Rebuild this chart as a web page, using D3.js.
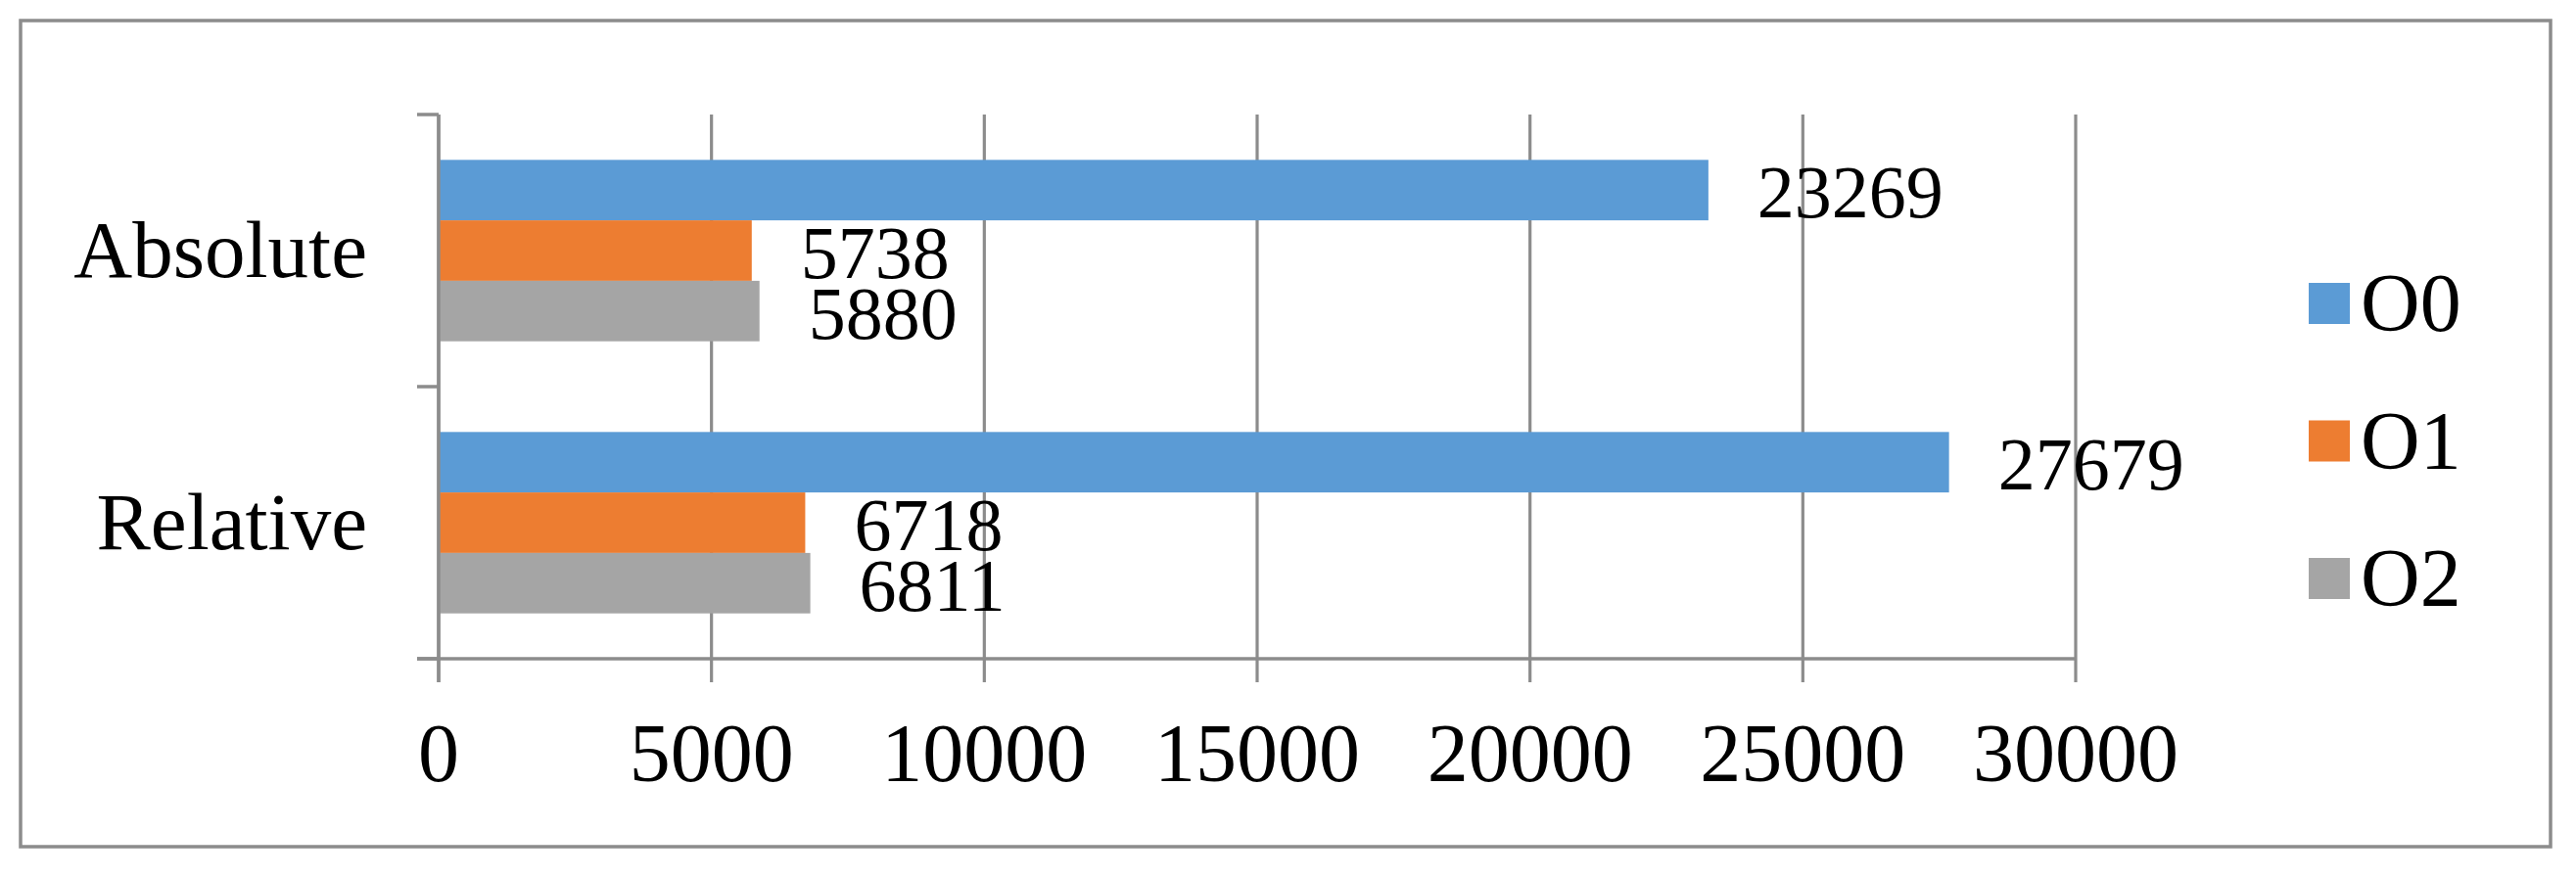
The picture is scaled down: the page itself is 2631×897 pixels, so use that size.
<!DOCTYPE html>
<html>
<head>
<meta charset="utf-8">
<script src="https://cdn.jsdelivr.net/npm/d3@7"></script>
<style>
html,body{margin:0;padding:0;background:#fff;}
svg{display:block;}
text{font-family:"Liberation Serif","Times New Roman",serif;fill:#000;}
</style>
</head>
<body>
<script>
const categories = ["Absolute", "Relative"];
const seriesNames = ["O0", "O1", "O2"];
const O0 = [23269, 27679];
const O1 = [5738, 6718];
const O2 = [5880, 6811];
const xTicks = [0, 5000, 10000, 15000, 20000, 25000, 30000];
const seriesColors = ["#5B9BD5", "#ED7D31", "#A5A5A5"];

const W = 2631, H = 897;
const seriesValues = [O0, O1, O2];
const rows = [];
categories.forEach((c, ci) => {
  seriesNames.forEach((s, si) => rows.push({cat: c, ser: s, si, value: seriesValues[si][ci]}));
});

const svg = d3.select("body").append("svg").attr("width", W).attr("height", H);

// outer frame
svg.append("rect").attr("x", 21).attr("y", 21).attr("width", 2584).attr("height", 844)
  .attr("fill", "#fff").attr("stroke", "#8c8c8c").attr("stroke-width", 3.5);

const plot = {left: 448, right: 2120, top: 117, bottom: 673};
const labelFont = 76, axisFont = 84, catFont = 83;
const gridColor = "#8c8c8c";
const tickLen = 24;

const x = d3.scaleLinear().domain([0, 30000]).range([plot.left, plot.right]);
const y = d3.scaleBand().domain(categories).range([plot.top, plot.bottom]).padding(0);
const bw = y.bandwidth();
const barH = bw / (3 + 1.5);
const yInner = d3.scaleBand().domain(seriesNames)
  .range([(bw - 3 * barH) / 2, (bw + 3 * barH) / 2]).padding(0);

// gridlines + tick marks below axis
svg.append("g").selectAll("line").data(xTicks).join("line")
  .attr("x1", d => x(d)).attr("x2", d => x(d))
  .attr("y1", plot.top).attr("y2", plot.bottom + tickLen)
  .attr("stroke", gridColor).attr("stroke-width", 3.2);

// category axis ticks (boundaries)
const bounds = [plot.top, plot.top + bw, plot.bottom];
svg.append("g").selectAll("line").data(bounds).join("line")
  .attr("x1", plot.left - 22).attr("x2", plot.left)
  .attr("y1", d => d).attr("y2", d => d)
  .attr("stroke", gridColor).attr("stroke-width", 3.5);

// bars
svg.append("g").selectAll("rect").data(rows).join("rect")
  .attr("x", x(0))
  .attr("y", d => y(d.cat) + yInner(d.ser))
  .attr("width", d => x(d.value) - x(0))
  .attr("height", yInner.bandwidth())
  .attr("fill", d => seriesColors[d.si]);

// axes lines
svg.append("line").attr("x1", plot.left).attr("x2", plot.left)
  .attr("y1", plot.top).attr("y2", plot.bottom + tickLen)
  .attr("stroke", gridColor).attr("stroke-width", 3.5);
svg.append("line").attr("x1", plot.left - 22).attr("x2", plot.right)
  .attr("y1", plot.bottom).attr("y2", plot.bottom)
  .attr("stroke", gridColor).attr("stroke-width", 3.5);

// data labels
svg.append("g").selectAll("text").data(rows).join("text")
  .attr("x", d => x(d.value) + 50)
  .attr("y", d => y(d.cat) + yInner(d.ser) + yInner.bandwidth() / 2 + 28)
  .attr("font-size", labelFont)
  .text(d => d.value);

// x tick labels
svg.append("g").selectAll("text").data(xTicks).join("text")
  .attr("x", d => x(d)).attr("y", 798)
  .attr("text-anchor", "middle").attr("font-size", axisFont)
  .text(d => d);

// category labels
svg.append("g").selectAll("text").data(categories).join("text")
  .attr("x", 375).attr("y", d => y(d) + bw / 2 + 27)
  .attr("text-anchor", "end").attr("font-size", catFont)
  .text(d => d);

// legend
const ly = d3.scalePoint().domain(seriesNames).range([310, 591]);
const lg = svg.append("g").selectAll("g").data(seriesNames).join("g");
lg.append("rect").attr("x", 2358).attr("y", d => ly(d) - 21)
  .attr("width", 42).attr("height", 42)
  .attr("fill", (d, i) => seriesColors[i]);
lg.append("text").attr("x", 2411).attr("y", d => ly(d) + 28)
  .attr("font-size", axisFont).text(d => d);
</script>
</body>
</html>
